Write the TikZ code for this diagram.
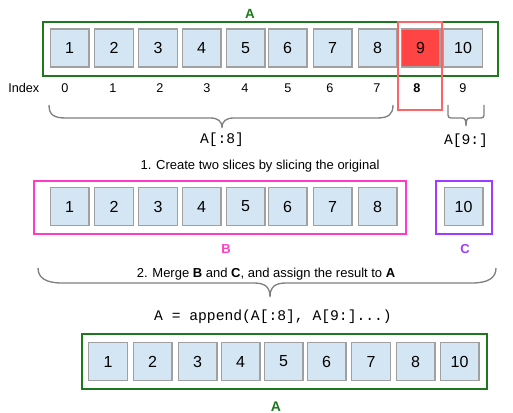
\documentclass[tikz,border=0pt]{standalone}
\usepackage{fontspec}
\setmainfont{Liberation Sans}
\setmonofont{Liberation Mono}
\usepackage{tikz}

\begin{document}
\begin{tikzpicture}[x=0.75pt,y=0.75pt,yscale=-1,xscale=1,
    cell/.style={draw={rgb, 255:red, 160; green, 160; blue, 160 },line width=1pt,fill={rgb, 255:red, 212; green, 230; blue, 243 },minimum width=29pt,minimum height=28.5pt,inner sep=0pt,font=\fontsize{12}{14}\selectfont},
    hot/.style={cell,fill={rgb, 255:red, 255; green, 68; blue, 68 }},
    idx/.style={inner sep=0.75pt,font=\fontsize{9.5}{11}\selectfont},
    code/.style={inner sep=0.75pt,font=\ttfamily\fontsize{11}{13}\selectfont},
    caption/.style={inner sep=0.75pt,font=\fontsize{9.75}{12}\selectfont},
    brace/.style={draw={rgb, 255:red, 128; green, 128; blue, 128 },line width=1pt},
    greenframe/.style={draw={rgb, 255:red, 30; green, 120; blue, 30 },line width=1.5pt},
    ]
    \useasboundingbox (0,0) rectangle (513,413);

    %Shape: Rectangle [id:array A]
    \draw [greenframe] (43,22) rectangle (498,76);
    % Text Node
    \node (lblA) at (250,14) [inner sep=0.75pt,text={rgb, 255:red, 30; green, 120; blue, 30 },font=\bfseries\fontsize{10}{12}\selectfont] {A};

    % Cells of A
    \node [cell] (a1) at (69.5,48) {1};
    \node [cell] (a2) at (114,48) {2};
    \node [cell] (a3) at (158,48) {3};
    \node [cell] (a4) at (201.5,48) {4};
    \node [cell] (a5) at (245.5,48) {5};
    \node [cell] (a6) at (287.5,48) {6};
    \node [cell] (a7) at (332.5,48) {7};
    \node [cell] (a8) at (377.5,48) {8};
    \node [hot] (a9) at (420.5,48) {9};
    \node [cell] (a10) at (463,48) {10};

    %Shape: Rectangle [id:removed element]
    \draw [draw={rgb, 255:red, 255; green, 100; blue, 100 },line width=1.5pt] (398,22) rectangle (442,110);

    % Index row
    \node [idx,anchor=west] (index) at (7,88) {Index};
    \node [idx] (i0) at (65,88) {0};
    \node [idx] (i1) at (113,88) {1};
    \node [idx] (i2) at (160,88) {2};
    \node [idx] (i3) at (207,88) {3};
    \node [idx] (i4) at (245,88) {4};
    \node [idx] (i5) at (288,88) {5};
    \node [idx] (i6) at (330,88) {6};
    \node [idx] (i7) at (377,88) {7};
    \node [idx,font=\bfseries\fontsize{9.5}{11}\selectfont] (i8) at (417,88) {8};
    \node [idx] (i9) at (463,88) {9};

    %Shape: Brace [id:A[:8]]
    \draw [brace] (49,105) .. controls (49,115) and (54,118) .. (66,118) -- (210,118) .. controls (218,118) and (222,121) .. (222,128) .. controls (222,121) and (226,118) .. (234,118) -- (377,118) .. controls (389,118) and (393,114) .. (393,105) ;
    \node [code] (head) at (222,140) {A[:8]};
    %Shape: Brace [id:A[9:]]
    \draw [brace] (448,105) -- (448,115) .. controls (448,117) and (449,118) .. (451,118) -- (462,118) .. controls (465,118) and (466,120) .. (466,126) .. controls (466,120) and (467,118) .. (470,118) -- (481,118) .. controls (483,118) and (484,117) .. (484,115) -- (484,105) ;
    \node [code] (tail) at (466,141) {A[9:]};

    % Text Node
    \node [caption] (step1) at (260,166) {1. Create two slices by slicing the original};

    %Shape: Rectangle [id:slice B]
    \draw [draw={rgb, 255:red, 255; green, 60; blue, 200 },line width=1.5pt] (34,181) rectangle (406,234);
    \node [cell] (b1) at (69.5,206.5) {1};
    \node [cell] (b2) at (114,206.5) {2};
    \node [cell] (b3) at (158,206.5) {3};
    \node [cell] (b4) at (201.5,206.5) {4};
    \node [cell] (b5) at (245.5,206.5) {5};
    \node [cell] (b6) at (287.5,206.5) {6};
    \node [cell] (b7) at (332.5,206.5) {7};
    \node [cell] (b8) at (377.5,206.5) {8};
    \node (lblB) at (226,249) [inner sep=0.75pt,text={rgb, 255:red, 255; green, 60; blue, 200 },font=\bfseries\fontsize{9.75}{12}\selectfont] {B};

    %Shape: Rectangle [id:slice C]
    \draw [draw={rgb, 255:red, 160; green, 60; blue, 255 },line width=1.5pt] (436,181) rectangle (492,234);
    \node [cell] (c1) at (463.5,206.5) {10};
    \node (lblC) at (465,249) [inner sep=0.75pt,text={rgb, 255:red, 160; green, 60; blue, 255 },font=\bfseries\fontsize{9.75}{12}\selectfont] {C};

    %Shape: Brace [id:merge]
    \draw [brace] (38,268) .. controls (38,278) and (46,283) .. (62,283) -- (254,283) .. controls (265,283) and (270,287) .. (270,297) .. controls (270,287) and (275,283) .. (286,283) -- (472,283) .. controls (488,283) and (496,278) .. (496,268) ;
    \node [caption] (step2) at (266,274) {2. Merge \textbf{B} and \textbf{C}, and assign the result to \textbf{A}};

    % Text Node
    \node [code] (stmt) at (273,317) {A = append(A[:8], A[9:]...)};

    %Shape: Rectangle [id:new A]
    \draw [greenframe] (82,334) rectangle (487,389);
    \node [cell] (n1) at (108,361.5) {1};
    \node [cell] (n2) at (152.5,361.5) {2};
    \node [cell] (n3) at (197.5,361.5) {3};
    \node [cell] (n4) at (240.5,361.5) {4};
    \node [cell] (n5) at (283.5,361.5) {5};
    \node [cell] (n6) at (326.5,361.5) {6};
    \node [cell] (n7) at (371,361.5) {7};
    \node [cell] (n8) at (415.5,361.5) {8};
    \node [cell] (n10) at (459.5,361.5) {10};
    \node (lblnew) at (276,411.5) [anchor=base,inner sep=0pt,text={rgb, 255:red, 30; green, 120; blue, 30 },font=\bfseries\fontsize{10.5}{12}\selectfont] {A};
\end{tikzpicture}
\end{document}
